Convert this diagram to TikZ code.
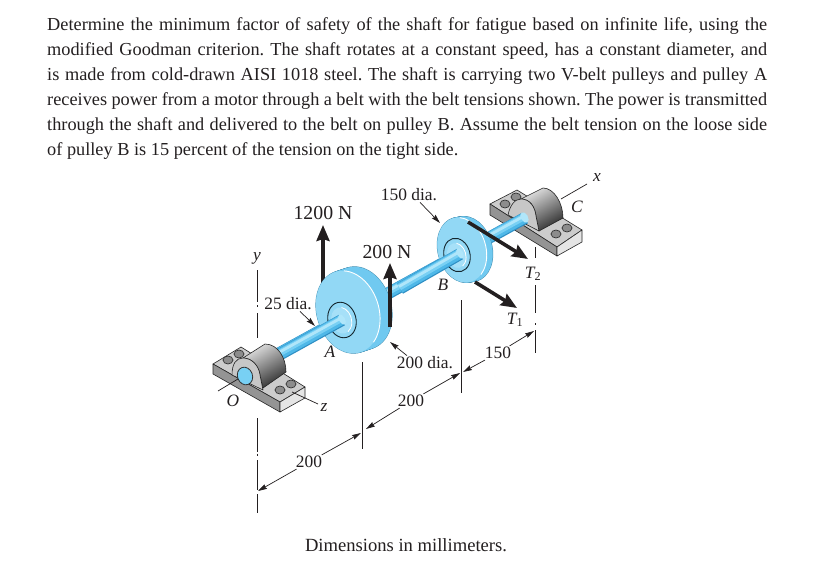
\documentclass[tikz,border=0pt]{standalone}
\usepackage{fontspec}
\setmainfont{Liberation Serif}
\usetikzlibrary{calc,arrows.meta}
\definecolor{inkc}{HTML}{231F20}
\definecolor{rimc}{HTML}{70C9F0}
\definecolor{facec}{HTML}{92D8F5}
\definecolor{hubc}{HTML}{A6E0F8}
\definecolor{edgec}{HTML}{4A93B5}
\definecolor{shafta}{HTML}{2F8FC4}
\definecolor{shaftb}{HTML}{4FB8E8}
\definecolor{shaftd}{HTML}{78D0F4}
\definecolor{shaftc}{HTML}{B0E6FA}
\tikzset{
 lab/.style={font=\fontsize{17.4}{19}\selectfont,text=inkc,inner sep=1pt},
 flab/.style={font=\fontsize{19.8}{22}\selectfont,text=inkc,inner sep=1pt},
 ilab/.style={font=\fontsize{17.4}{19}\selectfont\itshape,text=inkc,inner sep=1pt},
 thin line/.style={draw=inkc,line width=0.7pt},
 dim/.style={draw=inkc,line width=0.7pt,-{Stealth[length=9pt,width=5pt,inset=1pt]}},
 force/.style={draw=inkc,line width=3.6pt,-{Stealth[length=16pt,width=13pt,inset=2pt]}},
 blockline/.style={draw=black!85,line width=0.6pt,line join=round},
 bolt/.style={fill=black!45,draw=black!80,line width=0.7pt},
 bodyshade/.style={blockline,top color=black!12,bottom color=black!82,shading angle=30},
}
\newcommand{\shaftseg}[2]{%
 \draw[shafta,line width=12pt] #1 -- #2;
 \draw[shaftb,line width=10.4pt] ($#1+(-0.2,-0.35)$) -- ($#2+(-0.2,-0.35)$);
 \draw[shaftd,line width=6.5pt] ($#1+(-0.7,-1.2)$) -- ($#2+(-0.7,-1.2)$);
 \draw[shaftc,line width=2.8pt] ($#1+(-1.1,-1.9)$) -- ($#2+(-1.1,-1.9)$);
}
\newcommand{\pulleydisc}[7]{% back x,y front x,y rx ry tilt
 \foreach \t in {0,0.1,...,1.01}{
  \draw[edgec,line width=1pt] ($(#1,#2)!\t!(#3,#4)$) ellipse[x radius=#5pt,y radius=#6pt,rotate=#7];}
 \foreach \t in {0,0.1,...,1.01}{
  \fill[rimc] ($(#1,#2)!\t!(#3,#4)$) ellipse[x radius=#5pt,y radius=#6pt,rotate=#7];}
 \fill[facec] (#3,#4) ellipse[x radius=#5pt,y radius=#6pt,rotate=#7];
 \begin{scope}[shift={(#3,#4)},rotate=#7]
  \draw[white,line width=0.9pt] (75:#5pt and #6pt) arc[start angle=75,end angle=-60,x radius=#5pt,y radius=#6pt];
 \end{scope}
}
\newcommand{\hub}[5]{% x y rx ry tilt
 \draw[black!75!edgec,line width=0.9pt,fill=facec] (#1,#2) ellipse[x radius=#3pt,y radius=#4pt,rotate=#5];
 \fill[hubc] ($(#1,#2)+(-0.5,0.5)$) ellipse[x radius=#3pt*0.72,y radius=#4pt*0.74,rotate=#5];
 \begin{scope}[shift={($(#1,#2)+(-0.5,0.5)$)},rotate=#5]
  \draw[white,line width=0.8pt] (70:#3pt*0.72 and #4pt*0.74) arc[start angle=70,end angle=-70,x radius=#3pt*0.72,y radius=#4pt*0.74];
 \end{scope}
}
\begin{document}
\begin{tikzpicture}[x=1pt,y=-1pt]
\useasboundingbox (0,0) rectangle (817,575);
\fill[white] (0,0) rectangle (817,575);
\node[anchor=north west,inner sep=0pt,text width=720pt,align=justify,text=inkc,
 font=\fontsize{18.3}{25}\selectfont\frenchspacing] (problem) at (47,17.5) {Determine the minimum factor of safety of the shaft for fatigue based on infinite life, using the\linebreak
modified Goodman criterion. The shaft rotates at a constant speed, has a constant diameter, and\linebreak
is made from cold-drawn AISI 1018 steel. The shaft is carrying two V-belt pulleys and pulley A\linebreak
receives power from a motor through a belt with the belt tensions shown. The power is transmitted\linebreak
through the shaft and delivered to the belt on pulley B. Assume the belt tension on the loose side\linebreak
of pulley B is 15 percent of the tension on the tight side.};

% C block
\coordinate (xa) at (561,199); \coordinate (xb) at (587,184);
\draw[thin line] (xa) -- (xb);
\filldraw[blockline,fill=black!20] (490,204) -- (517,190) -- (582,230) -- (557,247) -- cycle;
\filldraw[blockline,fill=black!42] (490,204) -- (557,247) -- (557,256) -- (490,215) -- cycle;
\filldraw[blockline,fill=black!10] (557,247) -- (582,230) -- (582,242) -- (557,256) -- cycle;
\draw[bolt] (505,204) ellipse[x radius=5pt,y radius=4pt];
\draw[bolt] (516,197) ellipse[x radius=5pt,y radius=4pt];
\draw[bolt] (556,234) ellipse[x radius=5pt,y radius=4pt];
\draw[bolt] (567,228) ellipse[x radius=5pt,y radius=4pt];
\shade[bodyshade] (521,199) -- (543,188) .. controls (554,188) and (563,203) .. (563,218)
 -- (539,231) -- (536,216) .. controls (535,207) and (530,199) .. (521,199) -- cycle;
\filldraw[blockline,fill=black!22] (508,215) .. controls (510,205) and (515,199) .. (521,199)
 .. controls (530,199) and (535,207) .. (536,216) -- (539,231) -- cycle;

% shaft, rear run
\shaftseg{(278,354)}{(525,218)}
\fill[shaftc] (524.5,217.5) ellipse[x radius=3.5pt,y radius=5.7pt,rotate=30];

% force behind pulley A
\draw[force] (323,285) -- (323,225);

% pulley A
\pulleydisc{360}{308}{348}{312}{31}{42}{17}
\hub{342}{320}{14}{18}{15}
\shaftseg{(250,371)}{(342,320)}
\fill[shaftc] (342,319.5) ellipse[x radius=3pt,y radius=5.7pt,rotate=30];

% pulley B
\pulleydisc{468}{249}{462}{250}{24}{33}{15}
\hub{457}{255}{13}{17}{15}
\shaftseg{(400,288.5)}{(460,254)}
\fill[shaftc] (460,253.5) ellipse[x radius=3pt,y radius=5.7pt,rotate=30];

% O block
\coordinate (oa) at (218,391); \coordinate (ob) at (238,379);
\coordinate (za) at (292,392); \coordinate (zb) at (318,404);
\filldraw[blockline,fill=black!20] (213,364) -- (241,347) -- (305,387) -- (280,402) -- cycle;
\filldraw[blockline,fill=black!42] (213,364) -- (280,402) -- (280,412) -- (213,374) -- cycle;
\filldraw[blockline,fill=black!10] (280,402) -- (305,387) -- (305,398) -- (280,412) -- cycle;
\draw[bolt] (228,360) ellipse[x radius=5pt,y radius=4pt];
\draw[bolt] (239,354) ellipse[x radius=5pt,y radius=4pt];
\draw[bolt] (280,390) ellipse[x radius=5pt,y radius=4pt];
\draw[bolt] (291,384) ellipse[x radius=5pt,y radius=4pt];
\draw[thin line] (za) -- (zb);
\shade[bodyshade] (243,358) -- (265,344) .. controls (278,344) and (286,358) .. (286,372)
 -- (263,388) -- (260,375) .. controls (259,366) and (252,358) .. (243,358) -- cycle;
\filldraw[blockline,fill=black!22] (232,375) .. controls (232,364) and (236,358) .. (243,358)
 .. controls (252,358) and (259,366) .. (260,375) -- (263,390) -- cycle;
\draw[black!80,line width=0.8pt,fill=shaftd] (245,376) ellipse[x radius=7.5pt,y radius=9pt,rotate=20];
\draw[thin line] (oa) -- (ob);

% forces in front
\draw[force] (390,327) -- (390,263);
\draw[force] (468,222) -- (528,259);
\draw[force] (475,282) -- (517,308);

% labels
\node[flab] (l1200) at (323,213) {1200 N};
\node[flab] (l200n) at (387,252) {200 N};
\node[lab] (l150d) at (409,195) {150 dia.};
\node[lab] (l25d) at (288,304) {25 dia.};
\node[lab] (l200d) at (425,363) {200 dia.};
\node[lab] (d1) at (309,462) {200};
\node[lab] (d2) at (411,401) {200};
\node[lab] (d3) at (498,353) {150};
\node[lab,font=\fontsize{18.6}{22}\selectfont] (cap) at (406,545) {Dimensions in millimeters.};
\node[ilab] (ly) at (257,258) {y};
\node[ilab] (lx) at (597,178) {x};
\node[ilab] (lz) at (324,408) {z};
\node[ilab] (lo) at (233,401) {O};
\node[ilab] (la) at (330,352) {A};
\node[ilab] (lb) at (443,285) {B};
\node[ilab] (lc) at (577,207) {C};
\node[ilab] (lt1) at (515,320) {T\textsubscript{\upshape 1}};
\node[ilab] (lt2) at (533,274) {T\textsubscript{\upshape 2}};

% leaders
\coordinate (t25) at (315,326);
\coordinate (t150) at (440,223);
\coordinate (t200) at (390,342);
\draw[dim] ([xshift=12pt]l25d.south) -- (t25);
\draw[dim] ([xshift=11pt]l150d.south) -- (t150);
\draw[dim] ([xshift=-18pt]l200d.north) -- (t200);

% dimension lines
\coordinate (e0) at (258,491);
\coordinate (e1a) at (361,433); \coordinate (e1b) at (366,429);
\coordinate (e2a) at (460,373); \coordinate (e2b) at (463,372);
\coordinate (e3) at (534,331);
\draw[dim] (d1) -- (e0);
\draw[dim] (d1) -- (e1a);
\draw[dim] (d2) -- (e1b);
\draw[dim] (d2) -- (e2a);
\draw[dim] (d3) -- (e2b);
\draw[dim] (d3) -- (e3);
\draw[thin line] (362,362) -- (362,449);
\draw[thin line] (461,300) -- (461,393);
\draw[thin line] (535,247) -- (535,258);
\draw[thin line] (535,285) -- (535,313);
\draw[thin line] (535,323) -- (535,325);
\draw[thin line] (535,330) -- (535,353);
\foreach \a/\b in {270/302,305/307,313/338,418/452,453.5/455.5,460/490,494/513}
 \draw[thin line] (257,\a) -- (257,\b);
\end{tikzpicture}
\end{document}
